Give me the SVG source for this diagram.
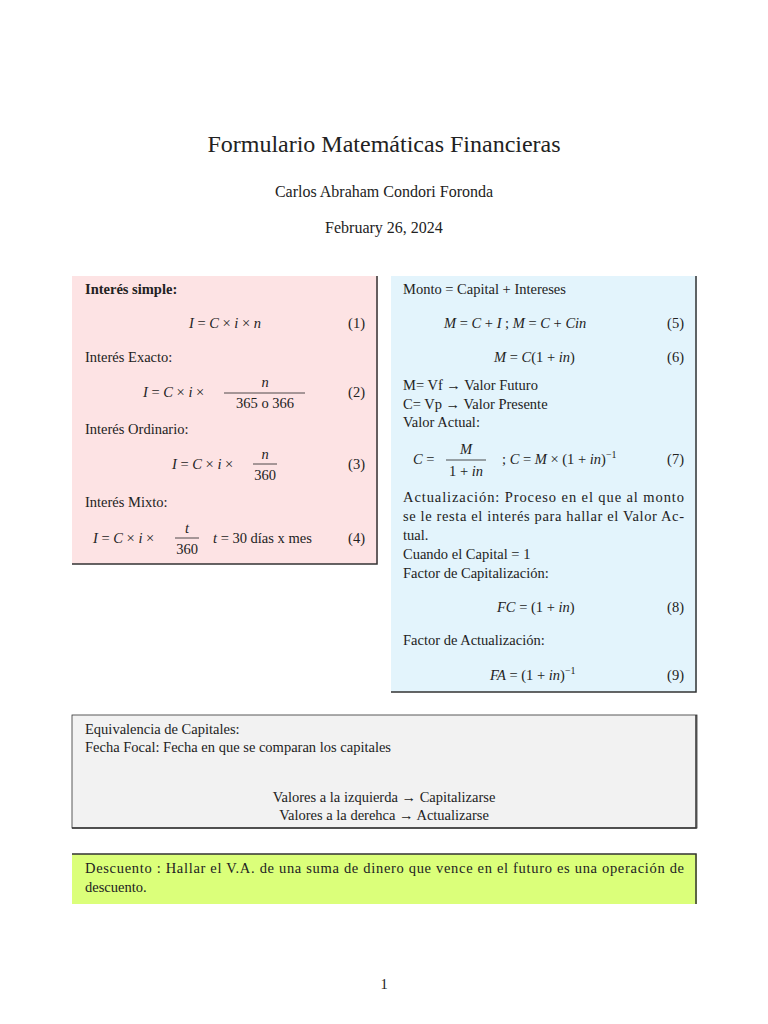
<svg xmlns="http://www.w3.org/2000/svg" width="768" height="1024" viewBox="0 0 768 1024">
<style>
text{font-family:"Liberation Serif","DejaVu Serif",serif;font-size:14.5px;fill:#222}
.i{font-style:italic}
.c{text-anchor:middle}
.r{text-anchor:end}
.edge{stroke:#333;stroke-width:1.5;fill:none}
.bar{stroke:#222;stroke-width:0.8}
</style>
<rect width="768" height="1024" fill="#fff"/>
<g id="header">
<text x="384" y="152" class="c" style="font-size:24px">Formulario Matemáticas Financieras</text>
<text x="384" y="197" class="c" style="font-size:16px">Carlos Abraham Condori Foronda</text>
<text x="384" y="233" class="c" style="font-size:16px">February 26, 2024</text>
</g>
<g id="simple">
<rect x="72" y="276" width="306" height="288" fill="#fde3e4"/>
<path class="edge" d="M377,276V564H72"/>
<text x="85" y="294" style="font-weight:bold">Interés simple:</text>
<text x="225" y="328" class="c"><tspan class="i">I</tspan> = <tspan class="i">C</tspan> × <tspan class="i">i</tspan> × <tspan class="i">n</tspan></text>
<text x="365" y="328" class="r">(1)</text>
<text x="85" y="362">Interés Exacto:</text>
<text x="143" y="397"><tspan class="i">I</tspan> = <tspan class="i">C</tspan> × <tspan class="i">i</tspan> ×</text>
<text x="265" y="387" class="c i">n</text>
<line class="bar" x1="224" y1="393" x2="305" y2="393"/>
<text x="265" y="408" class="c">365   o   366</text>
<text x="365" y="397" class="r">(2)</text>
<text x="85" y="434">Interés Ordinario:</text>
<text x="172" y="469"><tspan class="i">I</tspan> = <tspan class="i">C</tspan> × <tspan class="i">i</tspan> ×</text>
<text x="265" y="459" class="c i">n</text>
<line class="bar" x1="253" y1="464" x2="277" y2="464"/>
<text x="265" y="480" class="c">360</text>
<text x="365" y="469" class="r">(3)</text>
<text x="85" y="507">Interés Mixto:</text>
<text x="93" y="543"><tspan class="i">I</tspan> = <tspan class="i">C</tspan> × <tspan class="i">i</tspan> ×</text>
<text x="187" y="533" class="c i">t</text>
<line class="bar" x1="175" y1="538" x2="199" y2="538"/>
<text x="187" y="554" class="c">360</text>
<text x="213" y="543"><tspan class="i">t</tspan> = 30   días x mes</text>
<text x="365" y="543" class="r">(4)</text>
</g>
<g id="monto">
<rect x="391" y="276" width="306" height="416" fill="#e3f4fc"/>
<path class="edge" d="M696,276V692H391"/>
<text x="403" y="294">Monto = Capital + Intereses</text>
<text x="444" y="328"><tspan class="i">M</tspan> = <tspan class="i">C</tspan> + <tspan class="i">I</tspan>    ;    <tspan class="i">M</tspan> = <tspan class="i">C</tspan> + <tspan class="i">Cin</tspan></text>
<text x="684" y="328" class="r">(5)</text>
<text x="494" y="362"><tspan class="i">M</tspan> = <tspan class="i">C</tspan>(1 + <tspan class="i">in</tspan>)</text>
<text x="684" y="362" class="r">(6)</text>
<text x="403" y="390">M= Vf → Valor Futuro</text>
<text x="403" y="409">C= Vp → Valor Presente</text>
<text x="403" y="427">Valor Actual:</text>
<text x="413" y="464"><tspan class="i">C</tspan> =</text>
<text x="466" y="454" class="c i">M</text>
<line class="bar" x1="446" y1="460" x2="486" y2="460"/>
<text x="466" y="476" class="c">1 + <tspan class="i">in</tspan></text>
<text x="502" y="464">;    <tspan class="i">C</tspan> = <tspan class="i">M</tspan> × (1 + <tspan class="i">in</tspan>)<tspan dy="-6" style="font-size:10px">−1</tspan></text>
<text x="684" y="464" class="r">(7)</text>
<text x="403" y="502" textLength="281">Actualización:  Proceso en el que al monto</text>
<text x="403" y="521" textLength="281">se le resta el interés para hallar el Valor Ac-</text>
<text x="403" y="540">tual.</text>
<text x="403" y="559">Cuando el Capital = 1</text>
<text x="403" y="578">Factor de Capitalización:</text>
<text x="497" y="612"><tspan class="i">FC</tspan> = (1 + <tspan class="i">in</tspan>)</text>
<text x="684" y="612" class="r">(8)</text>
<text x="403" y="645">Factor de Actualización:</text>
<text x="490" y="680"><tspan class="i">FA</tspan> = (1 + <tspan class="i">in</tspan>)<tspan dy="-6" style="font-size:10px">−1</tspan></text>
<text x="684" y="680" class="r">(9)</text>
</g>
<g id="equivalencia">
<rect x="72" y="715" width="625" height="113" fill="#f2f2f2" stroke="#333" stroke-width="0.8"/>
<path class="edge" d="M696,715V828H72"/>
<text x="85" y="734">Equivalencia de Capitales:</text>
<text x="85" y="752">Fecha Focal: Fecha en que se comparan los capitales</text>
<text x="384" y="802" class="c">Valores a la izquierda → Capitalizarse</text>
<text x="384" y="820" class="c">Valores a la derehca → Actualizarse</text>
</g>
<g id="descuento">
<rect x="72" y="854" width="625" height="50" fill="#dbff7a"/>
<path class="edge" d="M72,854H696V904"/>
<text x="85" y="873" textLength="599">Descuento : Hallar el V.A. de una suma de dinero que vence en el futuro es una operación de</text>
<text x="85" y="892">descuento.</text>
</g>
<text x="384" y="989" class="c">1</text>
</svg>
